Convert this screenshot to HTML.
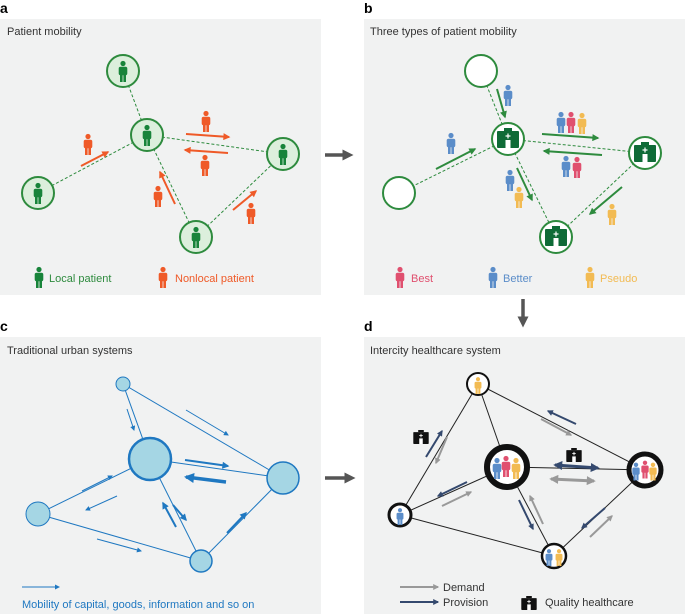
<!DOCTYPE html>
<html><head><meta charset="utf-8"><style>
html,body{margin:0;padding:0;background:#fff}
svg{display:block}
text{font-family:"Liberation Sans",sans-serif}
</style></head><body>
<svg width="685" height="614" viewBox="0 0 685 614" xmlns="http://www.w3.org/2000/svg">
<defs>
<g id="p"><circle cx="0" cy="-8.5" r="2.6"/><rect x="-4.3" y="-5.3" width="8.6" height="8.5" rx="1.8"/><rect x="-3" y="2" width="2.6" height="8"/><rect x="0.4" y="2" width="2.6" height="8"/></g>
<g id="h"><rect x="-11" y="-7" width="22" height="17" rx="1"/><rect x="-4" y="-10" width="8" height="3"/><rect x="-2.5" y="2" width="5" height="8" fill="#fff"/><rect x="-0.6" y="-4.5" width="1.2" height="5" fill="#fff"/><rect x="-2.5" y="-2.6" width="5" height="1.2" fill="#fff"/></g>
<marker id="mo" viewBox="0 0 10 10" refX="8" refY="5" markerUnits="userSpaceOnUse" markerWidth="8" markerHeight="7" orient="auto"><path d="M0,0L10,5L0,10z" fill="#ef5a28"/></marker>
<marker id="mg" viewBox="0 0 10 10" refX="8" refY="5" markerUnits="userSpaceOnUse" markerWidth="8" markerHeight="7" orient="auto"><path d="M0,0L10,5L0,10z" fill="#2e8b3e"/></marker>
<marker id="mb" viewBox="0 0 10 10" refX="8" refY="5" markerUnits="userSpaceOnUse" markerWidth="6" markerHeight="5" orient="auto"><path d="M0,0L10,5L0,10z" fill="#1f78c1"/></marker>
<marker id="mb2" viewBox="0 0 10 10" refX="8" refY="5" markerUnits="userSpaceOnUse" markerWidth="8" markerHeight="7" orient="auto"><path d="M0,0L10,5L0,10z" fill="#1f78c1"/></marker>
<marker id="mb3" viewBox="0 0 10 10" refX="8" refY="5" markerUnits="userSpaceOnUse" markerWidth="11" markerHeight="10" orient="auto"><path d="M0,0L10,5L0,10z" fill="#1f78c1"/></marker>
<marker id="md" viewBox="0 0 10 10" refX="8" refY="5" markerUnits="userSpaceOnUse" markerWidth="7" markerHeight="6" orient="auto-start-reverse"><path d="M0,0L10,5L0,10z" fill="#34496e"/></marker>
<marker id="md2" viewBox="0 0 10 10" refX="8" refY="5" markerUnits="userSpaceOnUse" markerWidth="10" markerHeight="9" orient="auto-start-reverse"><path d="M0,0L10,5L0,10z" fill="#34496e"/></marker>
<marker id="mr" viewBox="0 0 10 10" refX="8" refY="5" markerUnits="userSpaceOnUse" markerWidth="7" markerHeight="6" orient="auto-start-reverse"><path d="M0,0L10,5L0,10z" fill="#999"/></marker>
<marker id="mr2" viewBox="0 0 10 10" refX="8" refY="5" markerUnits="userSpaceOnUse" markerWidth="10" markerHeight="9" orient="auto-start-reverse"><path d="M0,0L10,5L0,10z" fill="#999"/></marker>
<marker id="mk" viewBox="0 0 10 10" refX="5" refY="5" markerUnits="userSpaceOnUse" markerWidth="11" markerHeight="11" orient="auto"><path d="M0,0L10,5L0,10z" fill="#555"/></marker>
</defs>

<rect x="0" y="19" width="321" height="276" fill="#f1f2f2"/>
<rect x="364" y="19" width="321" height="276" fill="#f1f2f2"/>
<rect x="0" y="337" width="321" height="277" fill="#f1f2f2"/>
<rect x="364" y="337" width="321" height="277" fill="#f1f2f2"/>
<text x="0" y="13" font-size="14" font-weight="bold">a</text>
<text x="364" y="13" font-size="14" font-weight="bold">b</text>
<text x="0" y="331" font-size="14" font-weight="bold">c</text>
<text x="364" y="331" font-size="14" font-weight="bold">d</text>
<text x="7" y="35" font-size="11" fill="#333">Patient mobility</text>
<text x="370" y="35" font-size="11" fill="#333">Three types of patient mobility</text>
<text x="7" y="354" font-size="11" fill="#333">Traditional urban systems</text>
<text x="370" y="354" font-size="11" fill="#333">Intercity healthcare system</text>

<line x1="325" y1="155" x2="348" y2="155" stroke="#555" stroke-width="3.5" marker-end="url(#mk)"/>
<line x1="523" y1="299" x2="523" y2="322" stroke="#555" stroke-width="3.5" marker-end="url(#mk)"/>
<line x1="325" y1="478" x2="350" y2="478" stroke="#555" stroke-width="3.5" marker-end="url(#mk)"/>

<!-- PANEL A -->
<g stroke="#2e8b3e" stroke-width="1" stroke-dasharray="3,2" fill="none">
<line x1="123" y1="71" x2="147" y2="135"/><line x1="147" y1="135" x2="38" y2="193"/><line x1="147" y1="135" x2="283" y2="154"/><line x1="147" y1="135" x2="196" y2="237"/><line x1="196" y1="237" x2="283" y2="154"/>
</g>
<g fill="#dcefdc" stroke="#2e8b3e" stroke-width="2">
<circle cx="123" cy="71" r="16"/><circle cx="147" cy="135" r="16"/><circle cx="38" cy="193" r="16"/><circle cx="283" cy="154" r="16"/><circle cx="196" cy="237" r="16"/>
</g>
<g fill="#18843a"><use href="#p" x="123" y="72"/><use href="#p" x="147" y="136"/><use href="#p" x="38" y="194"/><use href="#p" x="283" y="155"/><use href="#p" x="196" y="238"/><use href="#p" x="39" y="278"/></g>
<g stroke="#ef5a28" stroke-width="2" marker-end="url(#mo)">
<line x1="81" y1="166" x2="108" y2="152"/><line x1="186" y1="134" x2="229" y2="137"/><line x1="228" y1="153" x2="185" y2="150"/><line x1="175" y1="204" x2="160" y2="172"/><line x1="233" y1="210" x2="256" y2="191"/>
</g>
<g fill="#ef5a28"><use href="#p" x="88" y="145"/><use href="#p" x="206" y="122"/><use href="#p" x="205" y="166"/><use href="#p" x="158" y="197"/><use href="#p" x="251" y="214"/><use href="#p" x="163" y="278"/></g>
<text x="49" y="282" font-size="11" fill="#2e8b3e">Local patient</text>
<text x="175" y="282" font-size="11" fill="#ef5a28">Nonlocal patient</text>

<!-- PANEL B -->
<g stroke="#2e8b3e" stroke-width="1" stroke-dasharray="3,2" fill="none">
<line x1="481" y1="71" x2="508" y2="139"/><line x1="508" y1="139" x2="399" y2="193"/><line x1="508" y1="139" x2="645" y2="153"/><line x1="508" y1="139" x2="556" y2="237"/><line x1="556" y1="237" x2="645" y2="153"/>
</g>
<g fill="#fff" stroke="#2e8b3e" stroke-width="2">
<circle cx="481" cy="71" r="16"/><circle cx="508" cy="139" r="16"/><circle cx="399" cy="193" r="16"/><circle cx="645" cy="153" r="16"/><circle cx="556" cy="237" r="16"/>
</g>
<g fill="#0f6b37"><use href="#h" x="508" y="138"/><use href="#h" x="645" y="152"/><use href="#h" x="556" y="236"/></g>
<g stroke="#2e8b3e" stroke-width="2" marker-end="url(#mg)">
<line x1="497" y1="89" x2="505" y2="117"/><line x1="436" y1="169" x2="475" y2="149"/><line x1="542" y1="134" x2="598" y2="138"/><line x1="602" y1="155" x2="544" y2="151"/><line x1="517" y1="168" x2="532" y2="200"/><line x1="622" y1="187" x2="590" y2="214"/>
</g>
<g fill="#5b8dc9"><use href="#p" x="508" y="96"/><use href="#p" x="451" y="144"/><use href="#p" x="561" y="123"/><use href="#p" x="566" y="167"/><use href="#p" x="510" y="181"/><use href="#p" x="493" y="278"/></g>
<g fill="#e0506f"><use href="#p" x="571" y="123"/><use href="#p" x="577" y="168"/><use href="#p" x="400" y="278"/></g>
<g fill="#f2bb53"><use href="#p" x="582" y="124"/><use href="#p" x="519" y="198"/><use href="#p" x="612" y="215"/><use href="#p" x="590" y="278"/></g>
<text x="411" y="282" font-size="11" fill="#e0506f">Best</text>
<text x="503" y="282" font-size="11" fill="#5b8dc9">Better</text>
<text x="600" y="282" font-size="11" fill="#f2bb53">Pseudo</text>

<!-- PANEL C -->
<g stroke="#1f78c1" stroke-width="1" fill="none">
<line x1="123" y1="384" x2="150" y2="459"/><line x1="123" y1="384" x2="283" y2="478"/><line x1="150" y1="459" x2="283" y2="478"/><line x1="150" y1="459" x2="38" y2="514"/><line x1="150" y1="459" x2="201" y2="561"/><line x1="38" y1="514" x2="201" y2="561"/><line x1="201" y1="561" x2="283" y2="478"/>
</g>
<g fill="#a5d6e4" stroke="#1f78c1">
<circle cx="123" cy="384" r="7" stroke-width="1"/><circle cx="150" cy="459" r="21" stroke-width="2.5"/><circle cx="283" cy="478" r="16" stroke-width="1.5"/><circle cx="38" cy="514" r="12" stroke-width="1"/><circle cx="201" cy="561" r="11" stroke-width="1.5"/>
</g>
<g stroke="#1f78c1" stroke-width="1" marker-end="url(#mb)">
<line x1="127" y1="409" x2="134" y2="430"/><line x1="186" y1="410" x2="228" y2="435"/><line x1="82" y1="491" x2="112" y2="476"/><line x1="117" y1="496" x2="86" y2="510"/><line x1="97" y1="539" x2="141" y2="551"/><line x1="22" y1="587" x2="59" y2="587"/>
</g>
<g stroke="#1f78c1" stroke-width="2" marker-end="url(#mb2)">
<line x1="185" y1="460" x2="228" y2="466"/><line x1="173" y1="505" x2="186" y2="520"/><line x1="176" y1="527" x2="163" y2="503"/><line x1="227" y1="533" x2="246" y2="513"/>
</g>
<line x1="226" y1="482" x2="186" y2="477" stroke="#1f78c1" stroke-width="3.5" marker-end="url(#mb3)"/>
<text x="22" y="608" font-size="11" fill="#1f78c1">Mobility of capital, goods, information and so on</text>

<!-- PANEL D -->
<g stroke="#222" stroke-width="1" fill="none">
<line x1="478" y1="384" x2="507" y2="467"/><line x1="478" y1="384" x2="645" y2="470"/><line x1="478" y1="384" x2="400" y2="515"/><line x1="507" y1="467" x2="645" y2="470"/><line x1="507" y1="467" x2="400" y2="515"/><line x1="507" y1="467" x2="554" y2="556"/><line x1="400" y1="515" x2="554" y2="556"/><line x1="554" y1="556" x2="645" y2="470"/>
</g>
<g fill="#fff" stroke="#111">
<circle cx="478" cy="384" r="11" stroke-width="2"/><circle cx="507" cy="467" r="20" stroke-width="6"/><circle cx="645" cy="470" r="16" stroke-width="5"/><circle cx="400" cy="515" r="11" stroke-width="3"/><circle cx="554" cy="556" r="12" stroke-width="2.5"/>
</g>
<g fill="#f2bb53"><use href="#p" transform="translate(478,386) scale(0.8)"/><use href="#p" transform="translate(516,469)"/><use href="#p" transform="translate(653,472) scale(0.85)"/><use href="#p" transform="translate(559,558) scale(0.8)"/></g>
<g fill="#5b8dc9"><use href="#p" transform="translate(497,469)"/><use href="#p" transform="translate(636,472) scale(0.85)"/><use href="#p" transform="translate(400,517) scale(0.8)"/><use href="#p" transform="translate(549,558) scale(0.8)"/></g>
<g fill="#e0506f"><use href="#p" transform="translate(506,467)"/><use href="#p" transform="translate(645,470) scale(0.85)"/></g>
<g stroke="#34496e" stroke-width="2" marker-end="url(#md)">
<line x1="426" y1="457" x2="442" y2="431"/><line x1="576" y1="424" x2="548" y2="411"/><line x1="467" y1="482" x2="438" y2="496"/><line x1="519" y1="500" x2="533" y2="529"/><line x1="605" y1="508" x2="582" y2="528"/><line x1="400" y1="602" x2="438" y2="602"/>
</g>
<line x1="555" y1="465" x2="598" y2="468" stroke="#34496e" stroke-width="3" marker-end="url(#md2)" marker-start="url(#md2)"/>
<line x1="551" y1="479" x2="594" y2="481" stroke="#999" stroke-width="3" marker-end="url(#mr2)" marker-start="url(#mr2)"/>
<g stroke="#999" stroke-width="2" marker-end="url(#mr)">
<line x1="447" y1="437" x2="436" y2="463"/><line x1="541" y1="419" x2="571" y2="435"/><line x1="442" y1="506" x2="471" y2="492"/><line x1="543" y1="524" x2="530" y2="496"/><line x1="590" y1="537" x2="612" y2="516"/><line x1="400" y1="587" x2="438" y2="587"/>
</g>
<g fill="#111"><use href="#h" transform="translate(421,437) scale(0.7)"/><use href="#h" transform="translate(574,455) scale(0.7)"/><use href="#h" transform="translate(529,603) scale(0.7)"/></g>
<text x="443" y="591" font-size="11" fill="#333">Demand</text>
<text x="443" y="606" font-size="11" fill="#333">Provision</text>
<text x="545" y="606" font-size="11" fill="#333">Quality healthcare</text>
</svg>
</body></html>
